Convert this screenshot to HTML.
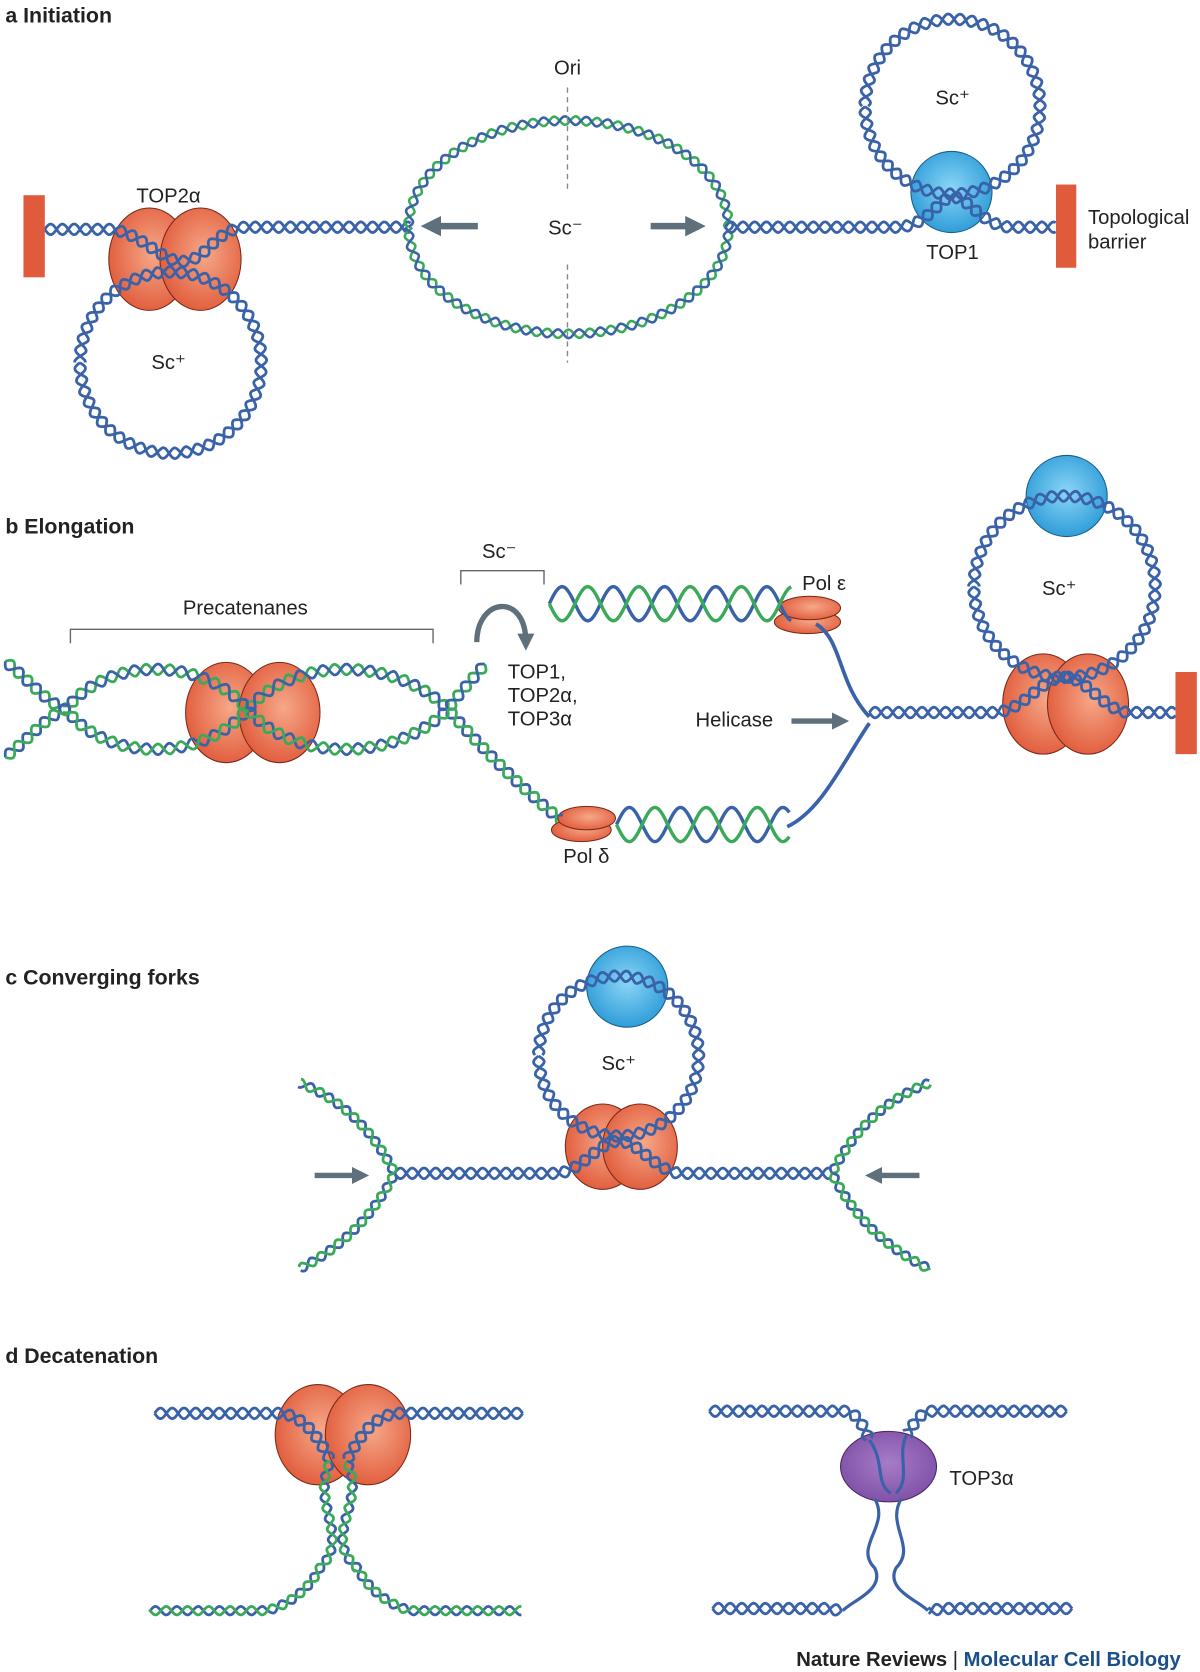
<!DOCTYPE html>
<html><head><meta charset="utf-8">
<style>
html,body{margin:0;padding:0;background:#fff;}
svg{display:block;}
text{font-family:"Liberation Sans",sans-serif;fill:#222;}
.lab{font-size:19px;}
.tt{font-size:20px;font-weight:bold;}
</style></head>
<body>
<svg id="s" width="1200" height="1672" viewBox="0 0 1125 1567.5" preserveAspectRatio="none" xmlns="http://www.w3.org/2000/svg">
<defs>
<radialGradient id="rg" cx="0.55" cy="0.45" r="0.6">
<stop offset="0" stop-color="#f6a888"/><stop offset="1" stop-color="#e05a3a"/></radialGradient>
<radialGradient id="bg" cx="0.5" cy="0.45" r="0.6">
<stop offset="0" stop-color="#8ad6f6"/><stop offset="1" stop-color="#2898d6"/></radialGradient>
<radialGradient id="pg" cx="0.5" cy="0.45" r="0.6">
<stop offset="0" stop-color="#a77cc6"/><stop offset="1" stop-color="#7d4ea6"/></radialGradient>
<marker id="ah" viewBox="0 0 10 10" refX="5" refY="5" markerWidth="3.2" markerHeight="3.2" orient="auto">
<path d="M0,0 L10,5 L0,10 z" fill="#5d707c"/></marker>
</defs>
<g id="prot"></g>
<g id="dna"></g>
<g id="top"></g>

<text x="5" y="21" class="tt">a  Initiation</text>
<text x="5" y="500" class="tt">b  Elongation</text>
<text x="5" y="923" class="tt">c  Converging forks</text>
<text x="5" y="1278" class="tt">d  Decatenation</text>

<rect x="22" y="183" width="20" height="77" fill="#e05a3c"/>
<rect x="990" y="173" width="19" height="78" fill="#e05a3c"/>
<line x1="532" y1="82" x2="532" y2="178" stroke="#888" stroke-width="1.3" stroke-dasharray="5,4"/>
<line x1="532" y1="248" x2="532" y2="340" stroke="#888" stroke-width="1.3" stroke-dasharray="5,4"/>
<text x="532" y="70" class="lab" text-anchor="middle">Ori</text>
<text x="530" y="220" class="lab" text-anchor="middle">Sc⁻</text>
<text x="158" y="190" class="lab" text-anchor="middle">TOP2α</text>
<text x="158" y="346" class="lab" text-anchor="middle">Sc⁺</text>
<text x="893" y="98" class="lab" text-anchor="middle">Sc⁺</text>
<text x="893" y="243" class="lab" text-anchor="middle">TOP1</text>
<text x="1020" y="210" class="lab">Topological</text>
<text x="1020" y="233" class="lab">barrier</text>
<line x1="448" y1="212" x2="404" y2="212" stroke="#5d707c" stroke-width="6" marker-end="url(#ah)"/>
<line x1="610" y1="212" x2="652" y2="212" stroke="#5d707c" stroke-width="6" marker-end="url(#ah)"/>

<path d="M66,603 V590 H406 V603" fill="none" stroke="#666" stroke-width="1.3"/>
<text x="230" y="576" class="lab" text-anchor="middle">Precatenanes</text>
<path d="M432,548 V535 H510 V548" fill="none" stroke="#666" stroke-width="1.3"/>
<text x="468" y="523" class="lab" text-anchor="middle">Sc⁻</text>
<path d="M447,602 C447,560 493,555 493,602" fill="none" stroke="#5d707c" stroke-width="5" marker-end="url(#ah)"/>
<text x="476" y="636" class="lab">TOP1,</text>
<text x="476" y="658" class="lab">TOP2α,</text>
<text x="476" y="680" class="lab">TOP3α</text>
<text x="752" y="553" class="lab">Pol ε</text>
<text x="528" y="809" class="lab">Pol δ</text>
<text x="652" y="681" class="lab">Helicase</text>
<line x1="742" y1="676" x2="788" y2="676" stroke="#5d707c" stroke-width="5" marker-end="url(#ah)"/>
<text x="993" y="558" class="lab" text-anchor="middle">Sc⁺</text>
<rect x="1102" y="630" width="20" height="77" fill="#e05a3c"/>
<path d="M765,585 C790,600 785,640 815,672 M738,775 C770,760 790,715 815,678" fill="none" stroke="#3a62a8" stroke-width="3.5"/>

<text x="580" y="1003" class="lab" text-anchor="middle">Sc⁺</text>
<line x1="295" y1="1102" x2="338" y2="1102" stroke="#5d707c" stroke-width="5" marker-end="url(#ah)"/>
<line x1="862" y1="1102" x2="819" y2="1102" stroke="#5d707c" stroke-width="5" marker-end="url(#ah)"/>

<text x="890" y="1392" class="lab">TOP3α</text>
<path d="M815,1350 C830,1370 820,1390 835,1400 M850,1345 C840,1365 855,1385 840,1400 M820,1405 C835,1430 800,1450 820,1470 C830,1490 800,1500 790,1510 M845,1405 C830,1430 860,1450 840,1470 C830,1490 860,1500 870,1510" fill="none" stroke="#3a62a8" stroke-width="3"/>

<text x="1107" y="1562" text-anchor="end" style="font-size:19px;font-weight:bold"><tspan fill="#222">Nature Reviews</tspan><tspan fill="#222" font-weight="normal"> | </tspan><tspan fill="#1a4f8a">Molecular Cell Biology</tspan></text>
</svg>
<script>
var NS="http://www.w3.org/2000/svg",svg=document.getElementById('s');
var P=document.getElementById('prot'),D=document.getElementById('dna');
var B="#3a62a8",G="#3aaa5a";
function el(tag,at,par){var e=document.createElementNS(NS,tag);for(var k in at)e.setAttribute(k,at[k]);(par||D).appendChild(e);return e;}
function helix(d,a,per,c1,c2,w){
 var tp=el('path',{d:d,fill:'none'},D);var L=tp.getTotalLength();
 var s1=[],s2=[];
 for(var s=0;s<=L;s+=1.2){var p=tp.getPointAtLength(s),q=tp.getPointAtLength(Math.min(L,s+0.6)),r=tp.getPointAtLength(Math.max(0,s-0.6));
  var tx=q.x-r.x,ty=q.y-r.y,n=Math.hypot(tx,ty)||1;var nx=-ty/n,ny=tx/n;
  var o=a*Math.sin(2*Math.PI*s/per);
  s1.push((p.x+nx*o).toFixed(1)+','+(p.y+ny*o).toFixed(1));
  s2.push((p.x-nx*o).toFixed(1)+','+(p.y-ny*o).toFixed(1));}
 D.removeChild(tp);
 el('polyline',{points:s2.join(' '),fill:'none',stroke:c2||B,'stroke-width':w||2.6});
 el('polyline',{points:s1.join(' '),fill:'none',stroke:c1||B,'stroke-width':w||2.6});
}
function circ(cx,cy,r){return 'M'+(cx-r)+','+cy+' a'+r+','+r+' 0 1 0 '+2*r+',0 a'+r+','+r+' 0 1 0 '+(-2*r)+',0';}
function dimer(x1,x2,y,rx,ry){el('ellipse',{cx:x1,cy:y,rx:rx,ry:ry,fill:'url(#rg)',stroke:'#7a2a18','stroke-width':1},P);el('ellipse',{cx:x2,cy:y,rx:rx,ry:ry,fill:'url(#rg)',stroke:'#7a2a18','stroke-width':1},P);}
function ball(cx,cy,r){el('circle',{cx:cx,cy:cy,r:r,fill:'url(#bg)',stroke:'#1a5f8a','stroke-width':1},P);}
var h=function(d){helix(d,5,22);};
dimer(140,188,243,38,48);
h('M42,215 L100,215 C130,215 150,245 170,245 C195,245 200,215 230,213 L385,213');
h(circ(160,340,85));
helix('M383,213 A150,100 0 1 1 683,213 A150,100 0 1 1 383,213',4,20,B,G,2.4);
ball(892,180,38);
h('M680,213 L840,213 C870,213 880,185 893,185 C910,185 920,213 950,213 L990,213');
h(circ(893,100,82));
dimer(212,262,668,38,47);
helix('M5,620 C30,640 45,660 62,665 C100,615 190,615 232,665 C275,615 370,615 420,665 C430,650 445,635 455,622',5,22,B,G);
helix('M5,710 C30,690 45,670 62,665 C100,715 190,715 232,665 C275,715 370,715 420,665 C450,700 490,740 525,768',5,22,G,B);
helix('M515,566 L742,566',16,48,G,B,3.2);
helix('M578,773 L740,773',16,48,G,B,3.2);
el('ellipse',{cx:757,cy:583,rx:31,ry:11,fill:'url(#rg)',stroke:'#7a2a18','stroke-width':1},P);
el('ellipse',{cx:759,cy:570,rx:29,ry:11,fill:'url(#rg)',stroke:'#7a2a18','stroke-width':1},P);
el('ellipse',{cx:545,cy:778,rx:28,ry:11,fill:'url(#rg)',stroke:'#7a2a18','stroke-width':1},P);
el('ellipse',{cx:550,cy:767,rx:27,ry:11,fill:'url(#rg)',stroke:'#7a2a18','stroke-width':1},P);
dimer(978,1020,660,38,47);
h('M815,668 L930,668 C960,668 975,635 998,635 C1020,635 1035,668 1060,668 L1102,668');
h(circ(998,550,85));
ball(1000,465,38);
dimer(565,600,1075,35,40);
h('M370,1100 L520,1100 C545,1100 560,1070 580,1070 C600,1070 615,1100 640,1100 L780,1100');
h(circ(580,990,75));
ball(588,925,38);
helix('M370,1100 C350,1060 320,1030 280,1015',4,20,G,B);
helix('M370,1100 C350,1140 320,1170 280,1190',4,20,G,B);
helix('M780,1100 C800,1060 830,1030 872,1015',4,20,G,B);
helix('M780,1100 C800,1140 830,1170 872,1190',4,20,G,B);
dimer(298,345,1345,40,47);
h('M145,1325 L260,1325 C285,1325 300,1350 310,1370');
h('M490,1325 L375,1325 C350,1325 335,1350 325,1370');
helix('M310,1370 C290,1410 330,1440 300,1470 C290,1490 270,1505 250,1510 L140,1510',4,20,G,B);
helix('M325,1370 C345,1410 300,1440 335,1470 C345,1490 365,1505 385,1510 L490,1510',4,20,G,B);
el('ellipse',{cx:833,cy:1375,rx:45,ry:33,fill:'url(#pg)',stroke:'#4a2a66','stroke-width':1},P);
h('M665,1323 L790,1323 C805,1323 810,1340 815,1350');
h('M1000,1323 L875,1323 C860,1323 855,1340 850,1345');
h('M668,1508 L770,1508 C780,1508 785,1510 790,1510');
h('M1005,1508 L890,1508 C880,1508 875,1510 870,1510');
</script>
</body></html>
